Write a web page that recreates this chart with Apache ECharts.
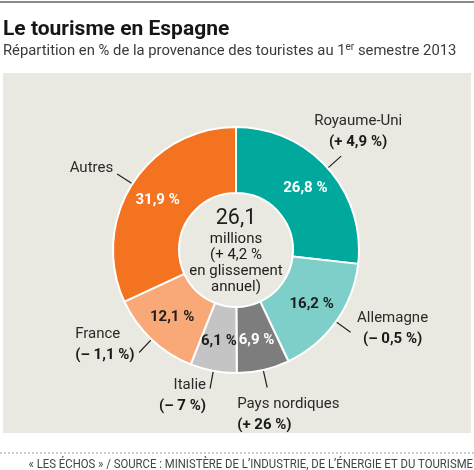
<!DOCTYPE html>
<html>
<head>
<meta charset="utf-8">
</head>
<body style="margin: 0; background: #fff">
<div id="main" style="width: 474px; height: 470px"></div>
<script src="https://cdn.jsdelivr.net/npm/echarts@6/dist/echarts.min.js"></script>
<script>
// data, clockwise from the top
var countries = ['Royaume-Uni', 'Allemagne', 'Pays nordiques', 'Italie', 'France', 'Autres'];
var shares = [26.8, 16.2, 6.9, 6.1, 12.1, 31.9];
var changes = ['+ 4,9 %', '– 0,5 %', '+ 26 %', '– 7 %', '– 1,1 %', null];
var totalMillions = '26,1';
var totalChange = '+ 4,2 %';

var colors = ['#00a99c', '#7ecfca', '#7d7d7d', '#c4c4c4', '#f9a877', '#f47321'];
var valueColors = ['#fff', '#1e1e1e', '#fff', '#1e1e1e', '#1e1e1e', '#fff'];

// where each outside label sits, relative to the end of its leader line
var labelPlace = [
    {dx: 17, dy: -3, align: 'center', verticalAlign: 'bottom'},
    {dx: 42, dy: -24, align: 'center', verticalAlign: 'top'},
    {dx: -30, dy: 6, align: 'left', verticalAlign: 'top'},
    {dx: -4, dy: -14, align: 'right', verticalAlign: 'top'},
    {dx: -64, dy: -8, align: 'left', verticalAlign: 'middle'},
    {dx: -4, dy: -6, align: 'right', verticalAlign: 'middle'}
];

var font = 'Roboto';

function pct(v) {
    return String(v).replace('.', ',') + ' %';
}

var sliceData = countries.map(function (name, i) {
    return {
        name: name,
        value: shares[i],
        itemStyle: {color: colors[i]},
        label: {color: valueColors[i]}
    };
});

var calloutData = countries.map(function (name, i) {
    return {name: name, value: shares[i]};
});

var chart = echarts.init(document.getElementById('main'));

var option = {
    animation: false,
    title: [{
        text: 'Le tourisme en Espagne',
        left: 0,
        top: 19,
        padding: [0, 3],
        textStyle: {fontFamily: font, fontSize: 21, fontWeight: 'bold', color: '#161616'}
    }, {
        text: 'Répartition en % de la provenance des touristes au 1{sup|er} semestre 2013',
        left: 0,
        top: 42,
        padding: [0, 3],
        textStyle: {
            fontFamily: font, fontSize: 14.8, fontWeight: 'normal', color: '#3a3a3a', lineHeight: 18,
            rich: {
                sup: {fontFamily: font, fontSize: 10, fontWeight: 'normal', color: '#3a3a3a', lineHeight: 10, verticalAlign: 'top'}
            }
        }
    }],
    graphic: [
        {type: 'line', shape: {x1: 0, y1: 2, x2: 474, y2: 2}, style: {stroke: '#8a8a8a', lineWidth: 2}, z: 0},
        {type: 'rect', shape: {x: 3, y: 73, width: 468, height: 360}, style: {fill: '#e9e8e1'}, z: 0},
        {type: 'line', shape: {x1: 0, y1: 453, x2: 474, y2: 453}, style: {stroke: '#9a9a9a', lineWidth: 1, lineDash: [2, 2]}, z: 0},
        {
            type: 'text', x: 473, y: 465, z: 5, scaleX: 0.945,
            style: {
                text: '« LES ÉCHOS » / SOURCE : MINISTÈRE DE L’INDUSTRIE, DE L’ÉNERGIE ET DU TOURISME',
                align: 'right', verticalAlign: 'middle',
                fontFamily: font, fontSize: 12, fill: '#444'
            }
        },
        {
            type: 'text', x: 236, y: 251, z: 5,
            style: {
                text: '{big|' + totalMillions + '}\n{sm|millions}\n{sm|(' + totalChange + '}\n{sm|en glissement}\n{sm|annuel)}',
                align: 'center', verticalAlign: 'middle',
                rich: {
                    big: {fontFamily: font, fontSize: 21.5, lineHeight: 24, fill: '#1e1e1e', align: 'center'},
                    sm: {fontFamily: font, fontSize: 15, lineHeight: 16, fill: '#1e1e1e', align: 'center'}
                }
            }
        }
    ],
    series: [{
        type: 'pie',
        center: [236, 250],
        radius: [57, 123],
        startAngle: 90,
        clockwise: true,
        silent: true,
        itemStyle: {borderColor: '#fff', borderWidth: 2},
        label: {
            position: 'inside',
            fontFamily: font,
            fontSize: 15,
            fontWeight: 'bold',
            formatter: function (p) { return pct(p.value); }
        },
        labelLine: {show: false},
        data: sliceData
    }, {
        type: 'pie',
        center: [236, 250],
        radius: [57, 123],
        startAngle: 90,
        clockwise: true,
        silent: true,
        avoidLabelOverlap: false,
        minShowLabelAngle: 0,
        itemStyle: {color: 'transparent', borderWidth: 0},
        label: {
            position: 'outside',
            formatter: function (p) {
                var c = changes[p.dataIndex];
                return '{n|' + p.name + '}' + (c ? '\n{c|(' + c + ')}' : '');
            },
            rich: {
                n: {fontFamily: font, fontSize: 15, color: '#2a2a2a', lineHeight: 21},
                c: {fontFamily: font, fontSize: 15, fontWeight: 'bold', color: '#1a1a1a', lineHeight: 21}
            }
        },
        labelLine: {show: true, length: 18, length2: 0, smooth: false, lineStyle: {color: '#222', width: 1.2}},
        labelLayout: function (params) {
            var pts = params.labelLinePoints;
            if (!pts) {
                return {};
            }
            var end = pts[pts.length - 1];
            var p = labelPlace[params.dataIndex];
            return {
                x: end[0] + p.dx,
                y: end[1] + p.dy,
                align: p.align,
                verticalAlign: p.verticalAlign,
                labelLinePoints: pts
            };
        },
        data: calloutData
    }]
};

chart.setOption(option);
</script>
</body>
</html>
